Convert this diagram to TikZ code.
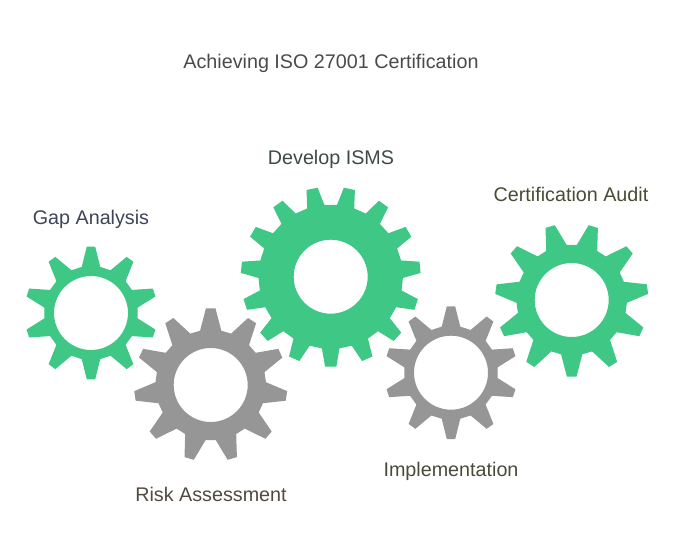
\documentclass[tikz,border=0pt]{standalone}
\usepackage{fontspec}
\setmainfont{Liberation Sans}
\usepackage{tikz}
\definecolor{lightgreen}{RGB}{62, 199, 133}
\definecolor{midgrey}{RGB}{150, 150, 150}
\definecolor{titletext}{RGB}{74, 74, 74}
\definecolor{gaptext}{RGB}{62, 68, 89}
\definecolor{ismstext}{RGB}{62, 74, 70}
\definecolor{audittext}{RGB}{74, 74, 54}
\definecolor{impltext}{RGB}{74, 74, 58}
\definecolor{risktext}{RGB}{80, 74, 64}

% centre x, centre y, teeth, first tooth angle, tip radius, root radius, root half angle, colour
\newcommand{\gearwheel}[8]{
  \fill [even odd rule, shift={(#1, #2)}, color=#8] ({#4 - #7}:#6)
  \foreach \t in {1, ..., #3} {
    -- ({#4 + (\t - 1) * 360 / #3 - #7}:#6)
    -- ({#4 + (\t - 1) * 360 / #3 - 3.6}:#5)
    -- ({#4 + (\t - 1) * 360 / #3 + 3.6}:#5)
    -- ({#4 + (\t - 1) * 360 / #3 + #7}:#6)
  } -- cycle (0, 0) circle (37);
}

\tikzset{label text/.style={font=\fontsize{14.8}{16}\selectfont, anchor=center}}

\begin{document}
\begin{tikzpicture}[x=0.75pt, y=-0.75pt]
  \useasboundingbox (0, 0) rectangle (681, 554);

  \gearwheel{91}{313}{10}{-90}{66.5}{47}{11.4}{lightgreen}
  \gearwheel{210.7}{385}{11}{-90}{76.7}{55.3}{11.1}{midgrey}
  \gearwheel{330.7}{276.7}{15}{90}{90}{72.2}{7}{lightgreen}
  \gearwheel{451}{372.7}{10}{-90}{66.5}{47}{11.4}{midgrey}
  \gearwheel{571.7}{300}{11}{90}{76.7}{55.3}{11.1}{lightgreen}

  \node [label text, color=titletext] (title) at (331, 63) { Achieving ISO 27001 Certification };
  \node [label text, color=gaptext] (gap) at (91, 219) { Gap Analysis };
  \node [label text, color=risktext] (risk) at (211, 494) { Risk Assessment };
  \node [label text, color=ismstext] (isms) at (331, 159) { Develop ISMS };
  \node [label text, color=impltext] (impl) at (451, 471) { Implementation };
  \node [label text, color=audittext] (audit) at (571, 194) { Certification Audit };
\end{tikzpicture}
\end{document}
